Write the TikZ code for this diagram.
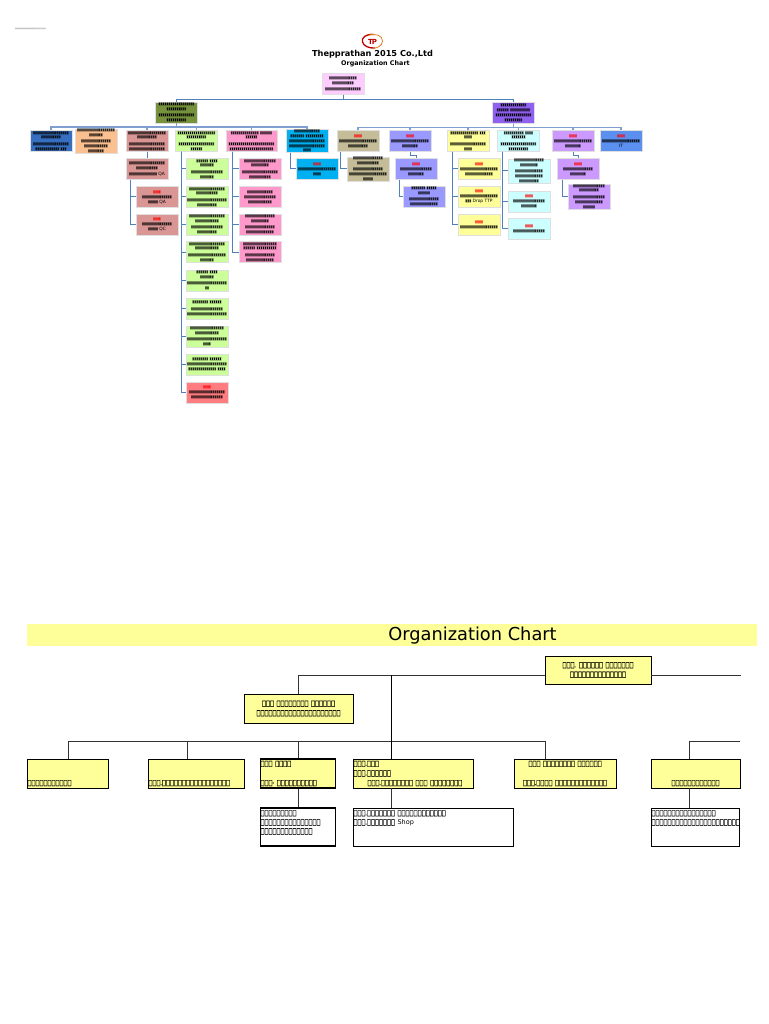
\documentclass[tikz,border=0pt]{standalone}
\usepackage{fontspec}
\setmainfont{DejaVu Sans}
\newfontfamily\tofufont[FakeStretch=0.53,FakeBold=0.3,WordSpace=1.9]{DejaVu Sans}
\newfontfamily\minitofu[FakeStretch=0.48,WordSpace=1.9]{DejaVu Sans}
\newfontfamily\latinfont{DejaVu Sans}
\usetikzlibrary{shadows}
\definecolor{rootpink}{HTML}{FFCCFF}
\definecolor{olivebox}{HTML}{76923C}
\definecolor{violetbox}{HTML}{9060F0}
\definecolor{bluebox}{HTML}{366FBF}
\definecolor{orangebox}{HTML}{FAC090}
\definecolor{rosebox}{HTML}{D99694}
\definecolor{limebox}{HTML}{CCFF99}
\definecolor{pinkbox}{HTML}{FF99CC}
\definecolor{cyanbox}{HTML}{00B0F0}
\definecolor{tanbox}{HTML}{C4BD97}
\definecolor{lavbox}{HTML}{9999FF}
\definecolor{yellowbox}{HTML}{FFFF99}
\definecolor{palebox}{HTML}{CCFFFF}
\definecolor{lilacbox}{HTML}{CC99FF}
\definecolor{skybox}{HTML}{5B8FF0}
\definecolor{redbox}{HTML}{FF7C80}
\definecolor{busline}{HTML}{4F81BD}
\definecolor{mainbus}{HTML}{7F9FD0}
\newcommand{\hd}{{\color{red}▣▣▣▣}}
\newcommand{\nl}{\phantom{□}}
\tikzset{
	chartstyle/.style={rectangle,draw=gray!25,line width=0.4pt,inner sep=0pt,align=center,minimum width=42pt,minimum height=21pt,
		font=\minitofu\fontsize{4.4}{4.9}\selectfont,drop shadow={shadow xshift=0.6pt,shadow yshift=-0.6pt,fill=gray!45,opacity=0.7}},
	busstyle/.style={draw=busline,line width=1pt},
	mainbusstyle/.style={draw=mainbus,line width=1.5pt},
	sheetstyle/.style={rectangle,draw=black,line width=0.8pt,fill=yellowbox,inner sep=0pt,align=center,
		font=\tofufont\fontsize{8}{9.6}\selectfont},
	sheetwhite/.style={sheetstyle,fill=white,align=left,text width=#1,font=\tofufont\fontsize{8}{9.1}\selectfont},
	lowline/.style={draw=black!80,line width=0.8pt}
}
\begin{document}
\begin{tikzpicture}[x=1pt,y=-1pt]
	\useasboundingbox (0,0) rectangle (768,1024);
	\node[font=\minitofu\fontsize{2.2}{3}\selectfont,text=gray!70,inner sep=0pt] (stamp) at (30.5,29) {▣▣▣▣▣▣▣▣▣▣▣▣▣▣▣▣▣▣▣▣▣▣▣▣▣▣▣▣▣▣▣};
	\node[font=\latinfont\bfseries\fontsize{7}{9}\selectfont,text=red!75!black,inner sep=0pt] (logo) at (372.5,41.5) {T\kern-1pt P};
	\draw[red!75!black,line width=1.3pt] (374,34.5) .. controls (366,33.5) and (361,38) .. (362.5,42) .. controls (363.5,46) and (369,48.5) .. (375,48);
	\draw[orange!55!brown,line width=0.8pt] (368,35.5) .. controls (375,32.5) and (383,36) .. (382.5,41) .. controls (382,46) and (378,48) .. (372,48.5);
	\node[font=\latinfont\bfseries\fontsize{8.2}{9}\selectfont,inner sep=0pt] (company) at (372.5,54) {Thepprathan 2015 Co.,Ltd};
	\node[font=\latinfont\bfseries\fontsize{6.4}{7}\selectfont,inner sep=0pt] (chartname) at (375.5,64) {Organization Chart};

	\node[chartstyle,fill=rootpink] (root) at (343,84) {▣▣▣▣▣▣▣▣▣▣▣▣▣▣\\▣▣▣▣▣▣▣▣▣▣▣\\[1.5pt]▣▣▣▣▣▣▣▣▣▣▣▣▣▣▣▣▣▣};
	\node[chartstyle,fill=olivebox] (ops) at (176.5,112.5) {▣▣▣▣▣▣▣▣▣▣▣▣▣▣▣▣▣▣\\▣▣▣▣▣▣▣▣▣▣\\[1.5pt]▣▣▣▣▣▣▣▣▣▣▣▣▣▣▣▣▣▣\\▣▣▣▣▣▣▣▣▣▣};
	\node[chartstyle,fill=violetbox] (sales) at (513.5,113) {▣▣▣▣▣▣▣▣▣▣▣▣▣\\▣▣▣▣▣▣ ▣▣▣▣▣▣▣▣▣▣\\▣▣▣▣▣▣▣▣▣▣▣▣▣▣▣▣▣▣\\▣▣▣▣▣▣▣▣▣};
	\draw[busstyle] (root.south) -- ++(0,5) -| (ops.north);
	\draw[busstyle] (root.south) -- ++(0,5) -| (sales.north);

	\node[chartstyle,fill=bluebox] (plan) at (51,141) {▣▣▣▣▣▣▣▣▣▣▣▣▣▣▣▣▣▣\\▣▣▣▣▣▣▣▣▣▣\\[1.5pt]▣▣▣▣▣▣▣▣▣▣▣▣▣▣▣▣▣▣\\▣▣▣▣▣▣▣▣▣▣▣▣ ▣▣▣};
	\node[chartstyle,fill=orangebox] (stock) at (96,141) {▣▣▣▣▣▣▣▣▣▣▣▣▣▣▣▣▣▣▣\\▣▣▣▣▣▣▣\\[1.5pt]▣▣▣▣▣▣▣▣▣▣▣▣▣▣▣\\▣▣▣▣▣▣▣▣▣▣▣▣\\▣▣▣▣▣▣▣▣};
	\node[chartstyle,fill=rosebox] (quality) at (147,141) {▣▣▣▣▣▣▣▣▣▣▣▣▣▣▣▣▣▣▣\\▣▣▣▣▣▣▣▣▣▣\\[1.5pt]▣▣▣▣▣▣▣▣▣▣▣▣▣▣▣▣▣▣\\▣▣▣▣▣▣▣▣▣▣▣▣▣▣▣▣▣▣};
	\node[chartstyle,fill=limebox] (prod) at (196.5,141) {▣▣▣▣▣▣▣▣▣▣▣▣▣▣▣▣▣▣▣\\▣▣▣▣▣▣▣▣▣▣\\[1.5pt]▣▣▣▣▣▣▣▣▣▣▣▣▣▣▣▣▣▣\\▣▣▣▣▣▣};
	\node[chartstyle,fill=pinkbox,minimum width=51pt] (maint) at (251.5,141) {▣▣▣▣▣▣▣▣▣▣▣▣▣▣ ▣▣▣▣▣▣\\▣▣▣▣▣▣\\[1.5pt]▣▣▣▣▣▣▣▣▣▣▣▣▣▣▣▣▣▣▣▣▣▣▣\\▣▣▣▣▣▣▣▣▣▣▣▣▣▣▣▣▣▣▣▣▣▣};
	\node[chartstyle,fill=cyanbox] (tech) at (307,141) {▣▣▣▣▣▣▣▣▣▣▣▣▣\\▣▣▣▣▣▣▣ ▣▣▣▣▣▣▣▣▣\\▣▣▣▣▣▣▣▣▣▣▣▣▣▣▣▣▣▣\\▣▣▣▣▣▣▣▣▣▣▣▣▣▣▣▣▣▣\\▣▣▣▣};
	\draw[mainbusstyle] (ops.south) -- ++(0,4) -| (plan.north);
	\draw[mainbusstyle] (ops.south) -- ++(0,4) -| (stock.north);
	\draw[mainbusstyle] (ops.south) -- ++(0,4) -| (quality.north);
	\draw[mainbusstyle] (ops.south) -- ++(0,4) -| (prod.north);
	\draw[mainbusstyle] (ops.south) -- ++(0,4) -| (maint.north);
	\draw[mainbusstyle] (ops.south) -- ++(0,4) -| (tech.north);

	\node[chartstyle,fill=tanbox] (account) at (358,141) {\hd\\▣▣▣▣▣▣▣▣▣▣▣▣▣▣▣▣▣▣▣\\▣▣▣▣▣▣▣▣▣▣};
	\node[chartstyle,fill=lavbox] (buying) at (410,141) {\hd\\▣▣▣▣▣▣▣▣▣▣▣▣▣▣▣▣▣▣▣\\▣▣▣▣▣▣▣▣};
	\node[chartstyle,fill=yellowbox] (market) at (468,141) {▣▣▣▣▣▣▣▣▣▣▣▣▣▣ ▣▣▣\\▣▣▣▣\\[1.5pt]▣▣▣▣▣▣▣▣▣▣▣▣▣▣▣▣▣▣\\▣▣▣▣};
	\node[chartstyle,fill=palebox] (shop) at (518.5,141) {▣▣▣▣▣▣▣▣▣▣ ▣▣▣▣\\▣▣▣▣▣▣▣\\[1.5pt]▣▣▣▣▣▣▣▣▣▣▣▣▣▣▣▣▣▣\\▣▣▣▣▣▣▣▣▣▣};
	\node[chartstyle,fill=lilacbox] (person) at (573,141) {\hd\\▣▣▣▣▣▣▣▣▣▣▣▣▣▣▣▣▣▣▣\\▣▣▣▣▣▣▣▣};
	\node[chartstyle,fill=skybox] (itdept) at (621,141) {\hd\\▣▣▣▣▣▣▣▣▣▣▣▣▣▣▣▣▣▣▣\\{\latinfont IT}};
	\draw[mainbusstyle] (sales.south) -- ++(0,4) -| (account.north);
	\draw[mainbusstyle] (sales.south) -- ++(0,4) -| (buying.north);
	\draw[mainbusstyle] (sales.south) -- ++(0,4) -| (market.north);
	\draw[mainbusstyle] (sales.south) -- ++(0,4) -| (shop.north);
	\draw[mainbusstyle] (sales.south) -- ++(0,4) -| (person.north);
	\draw[mainbusstyle] (sales.south) -- ++(0,4) -| (itdept.north);

	\node[chartstyle,fill=rosebox] (qcboss) at (147,169) {▣▣▣▣▣▣▣▣▣▣▣▣▣▣▣▣▣▣\\▣▣▣▣▣▣▣▣▣▣▣\\[1.5pt]▣▣▣▣▣▣▣▣▣▣▣▣▣▣ {\latinfont QA}};
	\node[chartstyle,fill=rosebox] (qaone) at (157,197) {\hd\\▣▣▣▣▣▣▣▣▣▣▣▣▣▣▣\\▣▣▣▣▣ {\latinfont QA}};
	\node[chartstyle,fill=rosebox] (qctwo) at (157,224.5) {\hd\\▣▣▣▣▣▣▣▣▣▣▣▣▣▣▣\\▣▣▣▣▣ {\latinfont QC}};
	\draw[busstyle] (quality.south) -- (qcboss.north);
	\draw[busstyle] ([xshift=-17pt]qcboss.south) |- (qaone.west);
	\draw[busstyle] ([xshift=-17pt]qcboss.south) |- (qctwo.west);

	\node[chartstyle,fill=limebox] (proda) at (207,169) {▣▣▣▣▣▣ ▣▣▣▣\\▣▣▣▣▣▣▣\\[1.5pt]▣▣▣▣▣▣▣▣▣▣▣▣▣▣▣▣\\▣▣▣▣▣▣▣};
	\node[chartstyle,fill=limebox] (prodb) at (207,197) {▣▣▣▣▣▣▣▣▣▣▣▣▣▣▣▣▣▣\\▣▣▣▣▣▣▣▣▣▣▣\\[1.5pt]▣▣▣▣▣▣▣▣▣▣▣▣▣▣▣▣▣▣▣▣\\▣▣▣▣▣▣▣▣▣▣};
	\node[chartstyle,fill=limebox] (prodc) at (207,224.5) {▣▣▣▣▣▣▣▣▣▣▣▣▣▣▣▣▣▣\\▣▣▣▣▣▣▣▣▣▣▣▣\\[1.5pt]▣▣▣▣▣▣▣▣▣▣▣▣▣▣▣▣\\▣▣▣▣▣▣▣▣▣▣};
	\node[chartstyle,fill=limebox] (prodd) at (207,252) {▣▣▣▣▣▣▣▣▣▣▣▣▣▣▣▣▣▣\\▣▣▣▣▣▣▣▣▣▣▣▣\\[1.5pt]▣▣▣▣▣▣▣▣▣▣▣▣▣▣▣▣▣▣▣\\▣▣▣▣▣▣▣};
	\node[chartstyle,fill=limebox] (prode) at (207,280.5) {▣▣▣▣▣▣ ▣▣▣▣\\▣▣▣▣▣▣▣\\[1.5pt]▣▣▣▣▣▣▣▣▣▣▣▣▣▣▣▣▣▣▣▣\\▣▣};
	\node[chartstyle,fill=limebox] (prodf) at (207,308.5) {▣▣▣▣▣▣▣▣ ▣▣▣▣▣▣\\[1.5pt]▣▣▣▣▣▣▣▣▣▣▣▣▣▣▣▣\\▣▣▣▣▣▣▣▣▣▣▣▣▣▣▣▣▣▣▣▣};
	\node[chartstyle,fill=limebox] (prodg) at (207,336.5) {▣▣▣▣▣▣▣▣▣▣▣▣▣▣▣▣▣\\▣▣▣▣▣▣▣▣▣▣▣▣\\[1.5pt]▣▣▣▣▣▣▣▣▣▣▣▣▣▣▣▣▣▣▣▣\\▣▣▣▣};
	\node[chartstyle,fill=limebox] (prodh) at (207,364.5) {▣▣▣▣▣▣▣▣ ▣▣▣▣▣▣\\▣▣▣▣▣▣▣▣▣▣▣▣▣▣▣▣▣▣▣▣\\▣▣▣▣▣▣▣▣▣▣▣▣▣▣ ▣▣▣▣};
	\node[chartstyle,fill=redbox] (prodi) at (207,392.5) {\hd\\▣▣▣▣▣▣▣▣▣▣▣▣▣▣▣▣▣▣\\▣▣▣▣▣▣▣▣▣▣▣▣▣▣▣▣};
	\draw[busstyle] ([xshift=-15.5pt]prod.south) |- (proda.west);
	\draw[busstyle] ([xshift=-15.5pt]prod.south) |- (prodb.west);
	\draw[busstyle] ([xshift=-15.5pt]prod.south) |- (prodc.west);
	\draw[busstyle] ([xshift=-15.5pt]prod.south) |- (prodd.west);
	\draw[busstyle] ([xshift=-15.5pt]prod.south) |- (prode.west);
	\draw[busstyle] ([xshift=-15.5pt]prod.south) |- (prodf.west);
	\draw[busstyle] ([xshift=-15.5pt]prod.south) |- (prodg.west);
	\draw[busstyle] ([xshift=-15.5pt]prod.south) |- (prodh.west);
	\draw[busstyle] ([xshift=-15.5pt]prod.south) |- (prodi.west);

	\node[chartstyle,fill=pinkbox] (mainta) at (260,169) {▣▣▣▣▣▣▣▣▣▣▣▣▣▣▣▣\\▣▣▣▣▣▣▣▣▣\\[1.5pt]▣▣▣▣▣▣▣▣▣▣▣▣▣▣▣▣▣▣\\▣▣▣▣▣▣▣▣▣▣▣};
	\node[chartstyle,fill=pinkbox] (maintb) at (260,197) {▣▣▣▣▣▣▣▣▣▣▣▣▣\\▣▣▣▣▣▣▣▣▣▣▣▣▣▣▣▣\\▣▣▣▣▣▣▣▣▣▣▣▣};
	\node[chartstyle,fill=pinkbox] (maintc) at (260,224.5) {▣▣▣▣▣▣▣▣▣▣▣▣▣▣▣\\▣▣▣▣▣▣▣▣▣\\[1.5pt]▣▣▣▣▣▣▣▣▣▣▣▣▣▣▣\\▣▣▣▣▣▣▣▣▣▣▣▣▣▣};
	\node[chartstyle,fill=pinkbox] (maintd) at (260,252) {▣▣▣▣▣▣▣▣▣▣▣▣▣▣▣▣▣\\▣▣▣▣▣▣ ▣▣▣▣▣▣▣▣▣▣\\[1.5pt]▣▣▣▣▣▣▣▣▣▣▣▣▣▣▣\\▣▣▣▣▣▣▣▣▣▣▣▣▣▣};
	\draw[busstyle] ([xshift=-19.5pt]maint.south) |- (mainta.west);
	\draw[busstyle] ([xshift=-19.5pt]maint.south) |- (maintb.west);
	\draw[busstyle] ([xshift=-19.5pt]maint.south) |- (maintc.west);
	\draw[busstyle] ([xshift=-19.5pt]maint.south) |- (maintd.west);

	\node[chartstyle,fill=cyanbox] (techa) at (317,169) {\hd\\▣▣▣▣▣▣▣▣▣▣▣▣▣▣▣▣▣▣▣\\▣▣▣▣};
	\draw[busstyle] ([xshift=-17pt]tech.south) |- (techa.west);

	\node[chartstyle,fill=tanbox] (accounta) at (368,169) {▣▣▣▣▣▣▣▣▣▣▣▣▣▣▣\\▣▣▣▣▣▣▣▣▣▣▣\\[1.5pt]▣▣▣▣▣▣▣▣▣▣▣▣▣▣▣\\▣▣▣▣▣▣▣▣▣▣▣▣▣▣▣▣▣▣▣\\▣▣▣▣▣};
	\draw[busstyle] ([xshift=-18pt]account.south) |- (accounta.west);

	\node[chartstyle,fill=lavbox] (buyinga) at (416,169) {\hd\\▣▣▣▣▣▣▣▣▣▣▣▣▣▣▣▣\\▣▣▣▣▣▣▣▣};
	\node[chartstyle,fill=lavbox] (buyingb) at (424,196.5) {▣▣▣▣▣▣▣ ▣▣▣▣▣\\▣▣▣▣▣▣\\[1.5pt]▣▣▣▣▣▣▣▣▣▣▣▣▣▣▣\\▣▣▣▣▣▣▣▣▣▣▣▣▣▣};
	\draw[busstyle] (buying.south) -- ++(0,4) -| (buyinga.north);
	\draw[busstyle] ([xshift=-17pt]buyinga.south) |- (buyingb.west);

	\node[chartstyle,fill=yellowbox] (marketa) at (479,169) {\hd\\▣▣▣▣▣▣▣▣▣▣▣▣▣▣▣▣▣▣▣\\▣▣▣▣▣▣▣▣▣▣▣▣▣▣};
	\node[chartstyle,fill=yellowbox] (marketb) at (479,196.5) {\hd\\▣▣▣▣▣▣▣▣▣▣▣▣▣▣▣▣▣▣▣\\▣▣▣ {\latinfont Drop TTP}};
	\node[chartstyle,fill=yellowbox] (marketc) at (479,224.5) {\hd\\▣▣▣▣▣▣▣▣▣▣▣▣▣▣▣▣▣▣▣};
	\draw[busstyle] ([xshift=-16pt]market.south) |- (marketa.west);
	\draw[busstyle] ([xshift=-16pt]market.south) |- (marketb.west);
	\draw[busstyle] ([xshift=-16pt]market.south) |- (marketc.west);

	\node[chartstyle,fill=palebox,minimum height=24pt] (shopa) at (529,171) {▣▣▣▣▣▣▣▣▣▣▣▣▣▣▣\\▣▣▣▣▣▣▣▣▣\\[1.5pt]▣▣▣▣▣▣▣▣▣▣▣▣▣▣\\▣▣▣▣▣▣▣▣▣▣▣▣▣▣\\▣▣▣▣▣▣▣▣▣▣};
	\node[chartstyle,fill=palebox] (shopb) at (529,201.5) {\hd\\▣▣▣▣▣▣▣▣▣▣▣▣▣▣▣▣\\▣▣▣▣▣▣▣▣};
	\node[chartstyle,fill=palebox] (shopc) at (529,229) {\hd\\▣▣▣▣▣▣▣▣▣▣▣▣▣▣▣▣};
	\draw[busstyle] ([xshift=-16.5pt]shop.south) |- (shopa.west);
	\draw[busstyle] ([xshift=-16.5pt]shop.south) |- (shopb.west);
	\draw[busstyle] ([xshift=-16.5pt]shop.south) |- (shopc.west);

	\node[chartstyle,fill=lilacbox] (persona) at (578,169) {\hd\\▣▣▣▣▣▣▣▣▣▣▣▣▣▣▣\\▣▣▣▣▣▣▣▣};
	\node[chartstyle,fill=lilacbox] (personb) at (589,196.5) {▣▣▣▣▣▣▣▣▣▣▣▣▣▣▣▣\\▣▣▣▣▣▣▣▣▣▣\\[1.5pt]▣▣▣▣▣▣▣▣▣▣▣▣▣▣▣▣\\▣▣▣▣▣▣▣▣▣▣▣▣▣▣\\▣▣▣▣▣▣};
	\draw[busstyle] (person.south) -- ++(0,4) -| (persona.north);
	\draw[busstyle] ([xshift=-16pt]persona.south) |- (personb.west);

	\node[rectangle,fill=yellowbox,minimum width=730pt,minimum height=22pt,inner sep=0pt] (banner) at (392,635) {};
	\node[font=\latinfont\fontsize{17.8}{20}\selectfont,inner sep=0pt] (bannertext) at (472.5,636) {Organization Chart};

	\node[sheetstyle,minimum width=106pt,minimum height=28pt] (mdright) at (598,670) {□□□. □□□□□□ □□□□□□□\\□□□□□□□□□□□□□□};
	\node[sheetstyle,minimum width=109pt,minimum height=29pt] (mdleft) at (298.5,708.5) {□□□ □□□□□□□□ □□□□□□\\□□□□□□□□□□□□□□□□□□□□□};
	\coordinate (topend) at (741,675);
	\coordinate (topjoin) at (391,675);
	\coordinate (midjoin) at (391,741);
	\coordinate (midend) at (740,741);
	\draw[lowline] ([yshift=-5pt]mdright.west) -| (mdleft.north);
	\draw[lowline] ([yshift=-5pt]mdright.east) -- (topend);

	\node[sheetstyle,text width=81pt,align=left,minimum height=29pt] (headone) at (68,773.5) {\nl\\\nl\\□□□□□□□□□□□};
	\node[sheetstyle,text width=96pt,align=left,minimum height=29pt] (headtwo) at (196.5,773.5) {\nl\\\nl\\□□□.□□□□□□□□□□□□□□□□□};
	\node[sheetstyle,text width=75pt,align=left,minimum height=29pt,line width=1.1pt] (headthree) at (298,773.5) {□□□ □□□□\\\nl\\□□□- □□□□□□□□□□};
	\node[sheetstyle,text width=120pt,align=left,minimum height=29pt] (headfour) at (413.5,773.5) {□□□.□□□\\□□□.□□□□□□\\\hspace*{14pt}□□□.□□□□□□□□ □□□ □□□□□□□□};
	\node[sheetstyle,minimum width=102pt,minimum height=29pt] (headfive) at (565,773.5) {□□□ □□□□□□□□ □□□□□□\\\nl\\□□□.□□□□ □□□□□□□□□□□□□};
	\node[sheetstyle,minimum width=89pt,minimum height=29pt] (headsix) at (695.5,773.5) {\nl\\\nl\\□□□□□□□□□□□□};

	\draw[lowline] (midjoin) -| (headone.north);
	\draw[lowline] (midjoin) -| ([xshift=-9.5pt]headtwo.north);
	\draw[lowline] (midjoin) -| (headthree.north);
	\draw[lowline] (midjoin) -| ([xshift=-20pt]headfive.north);
	\draw[lowline] ([xshift=-6.5pt]headsix.north) |- (midend);
	\draw[draw=black,line width=0.7pt] (topjoin) -- ([xshift=-22.5pt]headfour.north);

	\node[sheetwhite=75pt,minimum height=38pt,line width=1.2pt] (workthree) at (298,827) {□□□□□□□□□\\□□□□□□□□□□□□□□□\\□□□□□□□□□□□□□\\\nl};
	\node[sheetwhite=160pt,minimum height=38pt] (workfour) at (433.5,827) {□□□.□□□□□□□ □□□□□□□□□□□□\\□□□.□□□□□□□ {\latinfont\fontsize{6.5}{9.1}\selectfont Shop}\\\nl\\\nl};
	\node[sheetwhite=88pt,minimum height=38pt] (worksix) at (695.5,827) {□□□□□□□□□□□□□□□□\\□□□□□□□□□□□□□□□□□□□□□□\\\nl\\\nl};
	\draw[lowline] (headthree.south) -- (workthree.north);
	\draw[lowline] ([xshift=-22.5pt]headfour.south) -- ([xshift=-42.5pt]workfour.north);
	\draw[lowline] ([xshift=-6.5pt]headsix.south) -- ([xshift=-6.5pt]worksix.north);
\end{tikzpicture}
\end{document}
